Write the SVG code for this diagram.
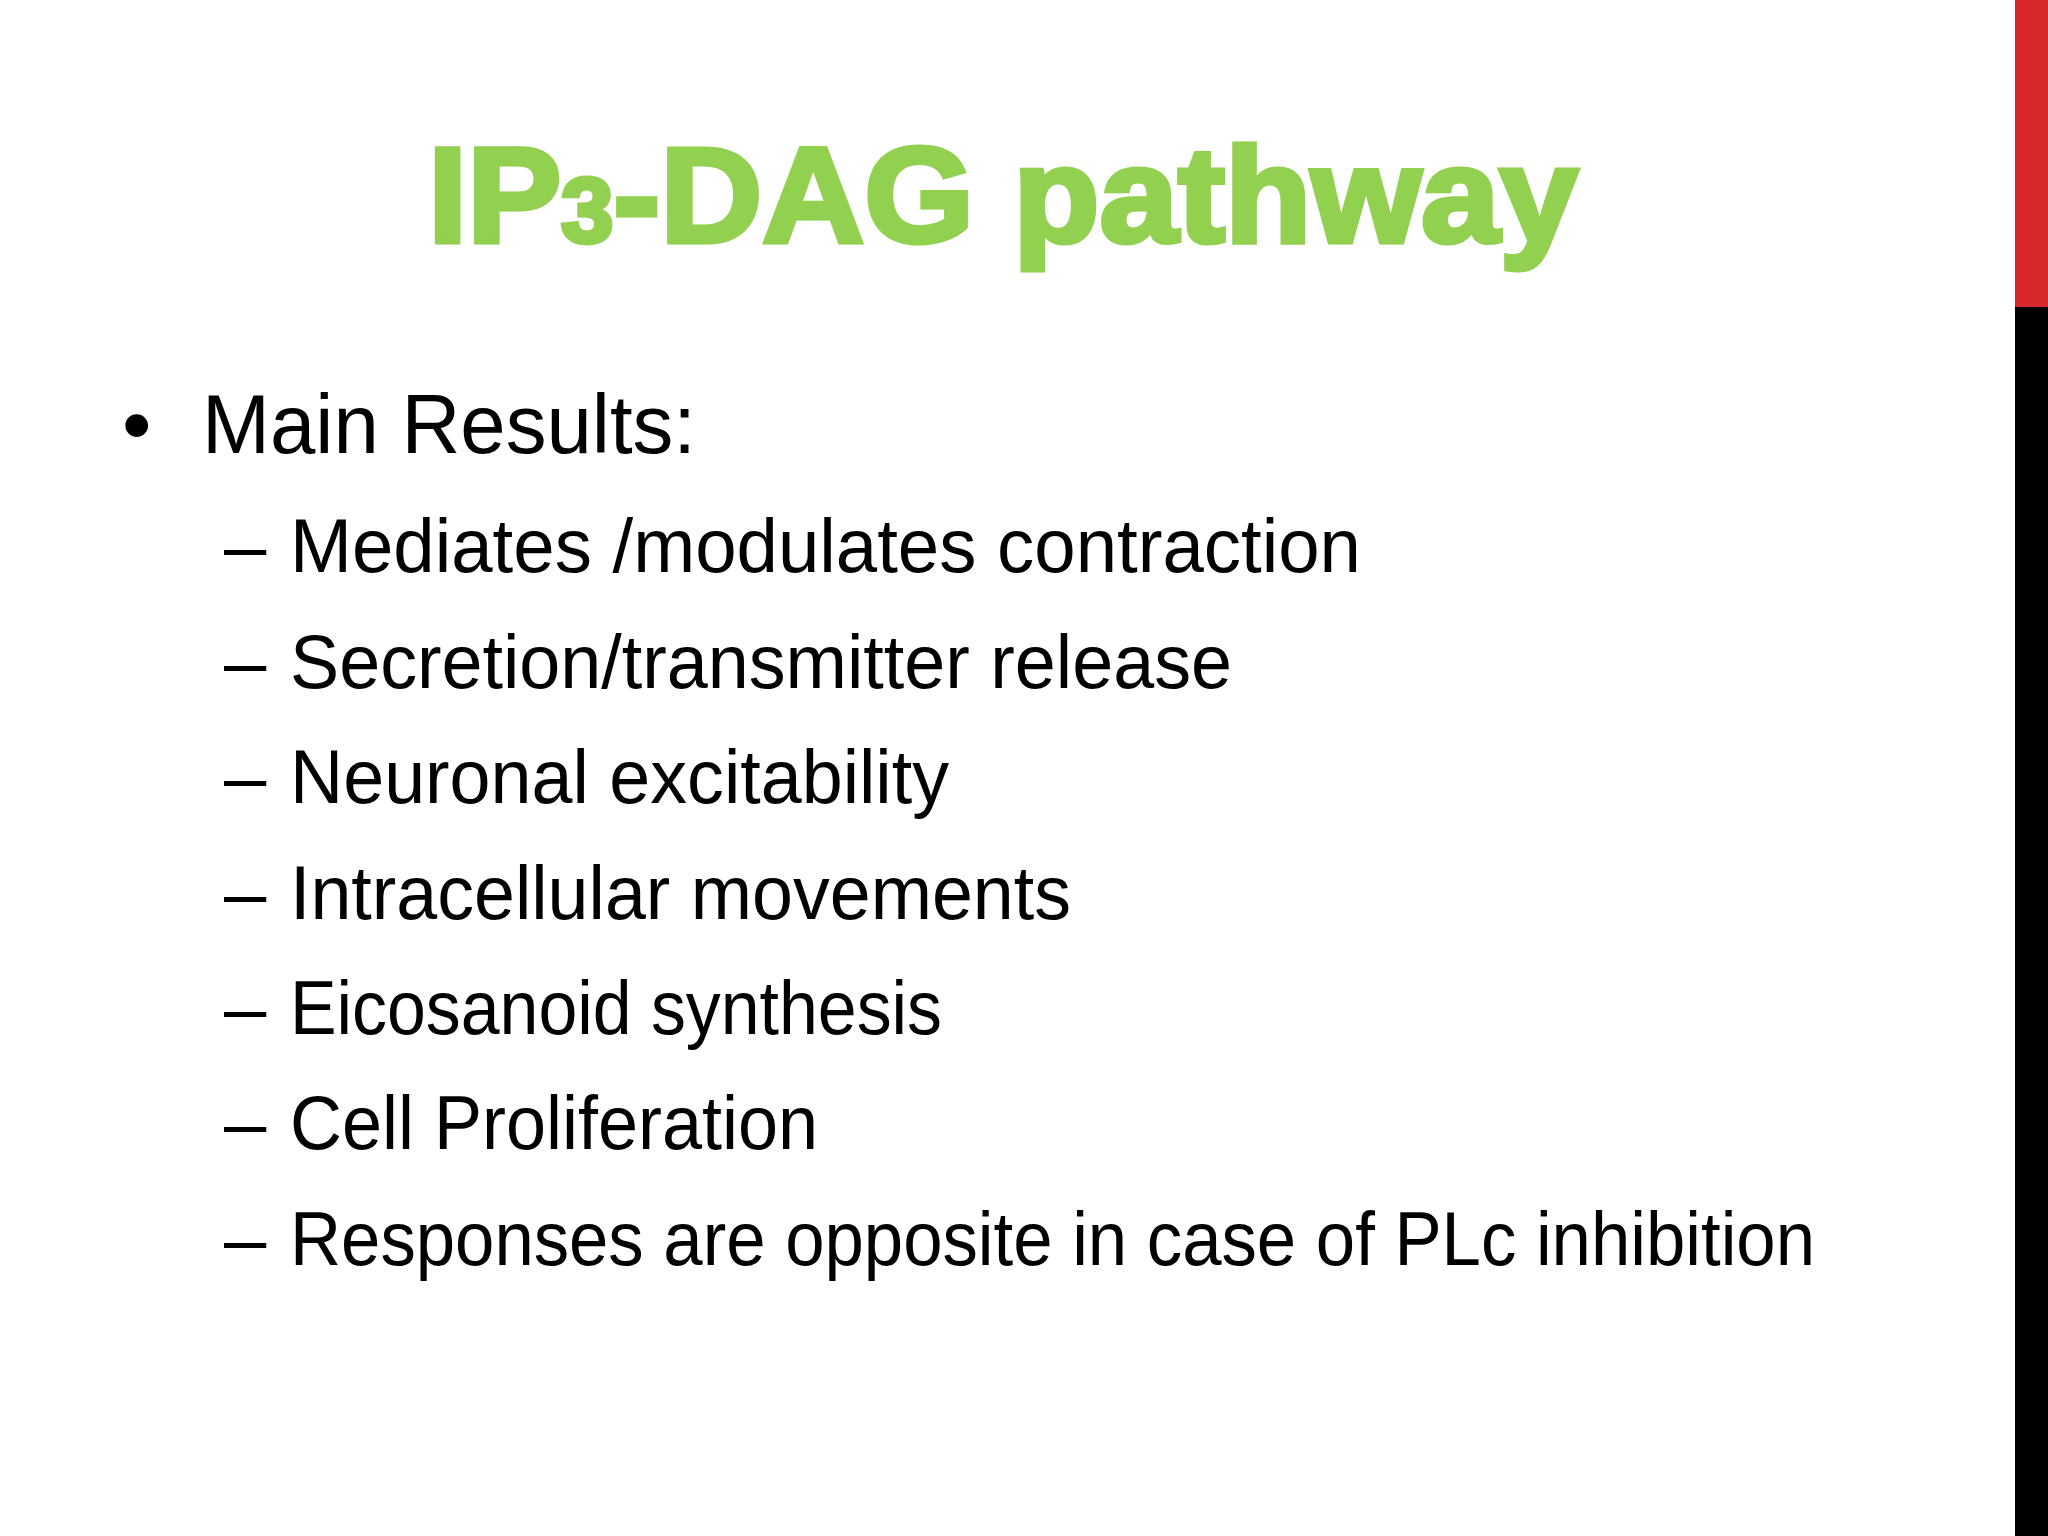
<svg xmlns="http://www.w3.org/2000/svg" width="2048" height="1536" viewBox="0 0 2048 1536">
<style>
.t{font-family:"Liberation Sans",Arial,sans-serif;fill:#000}
.s{font-size:76px}
.ti{font-family:"Liberation Sans",Arial,sans-serif;font-weight:bold;fill:#92D050;stroke:#92D050;stroke-width:5}
</style>
<rect width="2048" height="1536" fill="#fff"/>
<rect x="2015" y="0" width="33" height="307" fill="#D9272E"/>
<rect x="2015" y="307" width="33" height="1229" fill="#000"/>
<g id="title"><text class="ti" x="428" y="242" font-size="136" textLength="1150" lengthAdjust="spacingAndGlyphs">IP<tspan font-size="90">3</tspan>-DAG pathway</text></g>
<g id="body">
<text class="t" x="122" y="453" font-size="84">•</text>
<text class="t" x="202" y="453" font-size="84" textLength="494" lengthAdjust="spacingAndGlyphs">Main Results:</text>
<g class="t s">
<text x="224" y="572">–</text><text x="290" y="572" textLength="1071" lengthAdjust="spacingAndGlyphs">Mediates /modulates contraction</text>
<text x="224" y="688">–</text><text x="290" y="688" textLength="942" lengthAdjust="spacingAndGlyphs">Secretion/transmitter release</text>
<text x="224" y="803">–</text><text x="290" y="803" textLength="659" lengthAdjust="spacingAndGlyphs">Neuronal excitability</text>
<text x="224" y="919">–</text><text x="290" y="919" textLength="781" lengthAdjust="spacingAndGlyphs">Intracellular movements</text>
<text x="224" y="1034">–</text><text x="290" y="1034" textLength="652" lengthAdjust="spacingAndGlyphs">Eicosanoid synthesis</text>
<text x="224" y="1149">–</text><text x="290" y="1149" textLength="528" lengthAdjust="spacingAndGlyphs">Cell Proliferation</text>
<text x="224" y="1265">–</text><text x="290" y="1265" textLength="1525" lengthAdjust="spacingAndGlyphs">Responses are opposite in case of PLc inhibition</text>
</g>
</g>
</svg>
